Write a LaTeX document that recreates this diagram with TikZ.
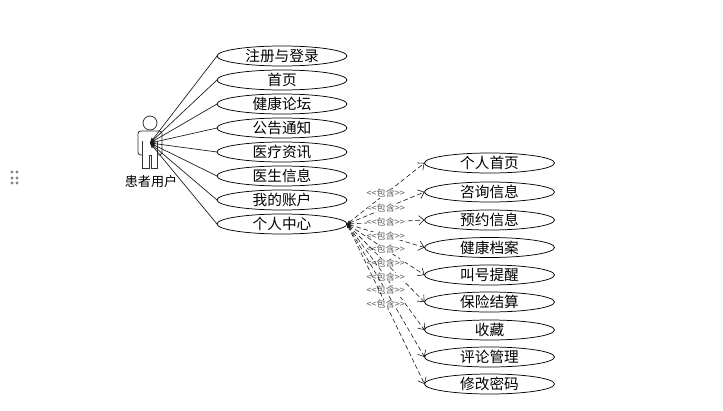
\documentclass[tikz,border=0pt]{standalone}
\usepackage{fontspec}
\newfontfamily\cjk{Noto Sans CJK SC}
\usetikzlibrary{arrows.meta, positioning, shapes.geometric}
\tikzset{
    usecase/.style={draw, ellipse, minimum width=97.5pt, minimum height=15pt, inner sep=0pt, outer sep=0pt, line width=0.55pt, font=\cjk\fontsize{11}{11}\selectfont},
    assoc/.style={{Stealth[length=4pt,width=3pt]}-, line width=0.5pt, black!90},
    include/.style={{Stealth[length=3pt,width=2.5pt]}-{Straight Barb[length=4pt,width=7pt]}, dash pattern=on 3.5pt off 2pt, line width=0.45pt, black!90},
    stereo/.style={fill=white, inner sep=0pt, text=black!65, font=\cjk\fontsize{6.8}{6.8}\selectfont},
    actorline/.style={line width=0.6pt, black!80},
    grip/.style={fill=black!50}
}
\begin{document}
\begin{tikzpicture}[x=0.75pt, y=-0.75pt]
    \useasboundingbox (0,0) rectangle (723,410);
    % Drag handle
    \foreach \gx in {12,17} \foreach \gy in {172,178,183} \fill[grip] (\gx,\gy) circle (1.6);
    % Actor
    \draw[actorline] (150,123) circle (7);
    \draw[actorline, rounded corners=2pt] (142.5,155) -- (138,155) -- (138,131) -- (162,131) -- (162,155) -- (157.5,155);
    \draw[actorline] (142.5,141) -- (142.5,168) -- (149,168) -- (149,155) -- (151,155) -- (151,168) -- (157.5,168) -- (157.5,141);
    \coordinate (actor) at (150,143);
    \node[font=\cjk\fontsize{9.8}{10}\selectfont] (actorname) at (151,182) {患者用户};
    % Left use cases
    \foreach \i/\gy/\txt in {1/56/注册与登录, 2/80/首页, 3/104/健康论坛, 4/128/公告通知,
        5/152/医疗资讯, 6/176/医生信息, 7/200/我的账户, 8/224/个人中心}
        \node[usecase] (left\i) at (282,\gy) {\txt};
    % Right use cases
    \foreach \i/\gy/\txt in {1/163/个人首页, 2/192/咨询信息, 3/220/预约信息, 4/247.5/健康档案,
        5/275/叫号提醒, 6/302/保险结算, 7/330/收藏, 8/357/评论管理, 9/384/修改密码}
        \node[usecase] (right\i) at (489.5,\gy) {\txt};
    % Associations
    \foreach \i in {1,...,8}
        \draw[assoc] (actor) -- (left\i.west);
    % Includes
    \foreach \i in {1,...,9}
        \draw[include] (left8.east) -- node[stereo, midway] {<<包含>>} (right\i.west);
\end{tikzpicture}
\end{document}
